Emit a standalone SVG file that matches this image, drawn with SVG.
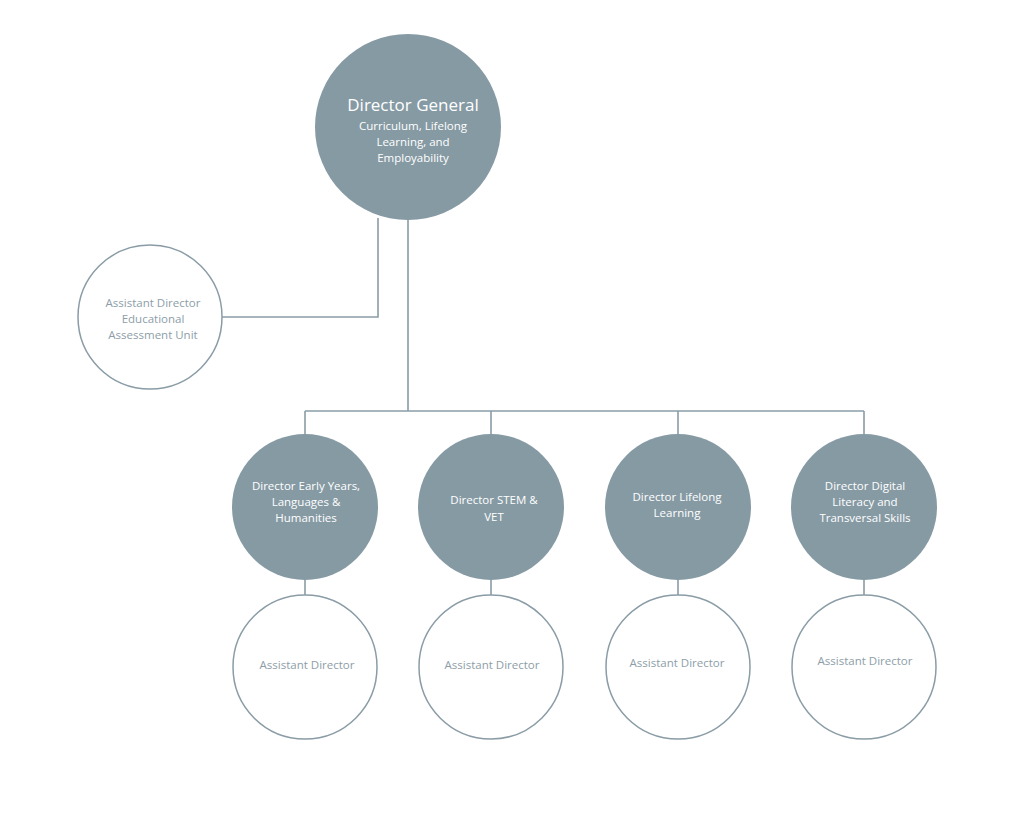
<svg xmlns="http://www.w3.org/2000/svg" width="1024" height="815" viewBox="0 0 1024 815">
<style>
.f{fill:#869aa4;}
.o{fill:#ffffff;stroke:#8a9ca6;stroke-width:1.5;}
.c{fill:none;stroke:#8a9ca6;stroke-width:1.6;}
text{font-family:"Open Sans","Noto Sans",sans-serif;text-anchor:middle;dominant-baseline:central;font-size:11.5px;}
.w{fill:#ffffff;}
.g{fill:#8d9ea8;}
</style>
<rect width="1024" height="815" fill="#ffffff"/>
<g id="connectors">
<polyline class="c" points="378,218 378,317 222,317"/>
<line class="c" x1="408" y1="218" x2="408" y2="411"/>
<line class="c" x1="305" y1="411" x2="864" y2="411"/>
<line class="c" x1="305" y1="411" x2="305" y2="436"/>
<line class="c" x1="491" y1="411" x2="491" y2="436"/>
<line class="c" x1="678" y1="411" x2="678" y2="436"/>
<line class="c" x1="864" y1="411" x2="864" y2="436"/>
<line class="c" x1="305" y1="579" x2="305" y2="596"/>
<line class="c" x1="491" y1="579" x2="491" y2="596"/>
<line class="c" x1="678" y1="579" x2="678" y2="596"/>
<line class="c" x1="864" y1="579" x2="864" y2="596"/>
</g>
<g id="dg">
<circle class="f" cx="408" cy="127" r="93"/>
<text class="w" x="413" y="104" style="font-size:17px">Director General</text>
<text class="w" x="413" y="125">Curriculum, Lifelong</text>
<text class="w" x="413" y="141">Learning, and</text>
<text class="w" x="413" y="157">Employability</text>
</g>
<g id="ad-eau">
<circle class="o" cx="150" cy="317" r="72"/>
<text class="g" x="153" y="302">Assistant Director</text>
<text class="g" x="153" y="318">Educational</text>
<text class="g" x="153" y="334">Assessment Unit</text>
</g>
<g id="d1">
<circle class="f" cx="305" cy="507" r="73"/>
<text class="w" x="306" y="485">Director Early Years,</text>
<text class="w" x="306" y="501">Languages &amp;</text>
<text class="w" x="306" y="517">Humanities</text>
</g>
<g id="d2">
<circle class="f" cx="491" cy="507" r="73"/>
<text class="w" x="494" y="499">Director STEM &amp;</text>
<text class="w" x="494" y="516">VET</text>
</g>
<g id="d3">
<circle class="f" cx="678" cy="507" r="73"/>
<text class="w" x="677" y="496">Director Lifelong</text>
<text class="w" x="677" y="512">Learning</text>
</g>
<g id="d4">
<circle class="f" cx="864" cy="507" r="73"/>
<text class="w" x="865" y="485">Director Digital</text>
<text class="w" x="865" y="501">Literacy and</text>
<text class="w" x="865" y="517">Transversal Skills</text>
</g>
<g id="a1">
<circle class="o" cx="305" cy="667" r="72"/>
<text class="g" x="307" y="664">Assistant Director</text>
</g>
<g id="a2">
<circle class="o" cx="491" cy="667" r="72"/>
<text class="g" x="492" y="664">Assistant Director</text>
</g>
<g id="a3">
<circle class="o" cx="678" cy="667" r="72"/>
<text class="g" x="677" y="662">Assistant Director</text>
</g>
<g id="a4">
<circle class="o" cx="864" cy="667" r="72"/>
<text class="g" x="865" y="660">Assistant Director</text>
</g>
</svg>
